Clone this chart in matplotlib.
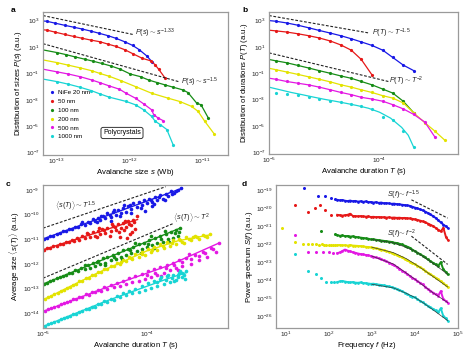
import numpy as np
import matplotlib
matplotlib.use('Agg')
import matplotlib.pyplot as plt
from matplotlib.ticker import FixedLocator, NullLocator, LogFormatterSciNotation

plt.rcParams['font.family'] = ['Liberation Sans', 'DejaVu Sans']
plt.rcParams['mathtext.fontset'] = 'custom'
plt.rcParams['mathtext.rm'] = 'Liberation Sans'
plt.rcParams['mathtext.it'] = 'Liberation Sans:italic'
plt.rcParams['mathtext.bf'] = 'Liberation Sans:bold'

COLORS = ['#1818e6', '#e61818', '#168c16', '#e3e300', '#e318e3', '#18d4d4']
LABELS = ['NiFe 20 nm', '50 nm', '100 nm', '200 nm', '500 nm', '1000 nm']

# ---------------- panel a : size distributions (log10 values) ----------------
a_x0 = -13.18
a_y0 = [2.97, 2.30, 0.78, 0.02, -0.68, -1.43]
a_x = [
    [-13.13, -13.01, -12.88, -12.76, -12.65, -12.52, -12.41, -12.29, -12.18, -12.06, -11.95, -11.86, -11.75, -11.68],
    [-13.13, -13.01, -12.88, -12.76, -12.65, -12.52, -12.40, -12.29, -12.18, -12.06, -11.95, -11.82, -11.70, -11.64, -11.59, -11.50],
    [-12.99, -12.87, -12.74, -12.61, -12.49, -12.37, -12.24, -12.12, -11.98, -11.84, -11.73, -11.61, -11.50, -11.39, -11.26, -11.19, -11.07, -11.01, -10.91],
    [-12.99, -12.83, -12.67, -12.51, -12.40, -12.27, -12.11, -11.91, -11.69, -11.46, -11.30, -11.14, -11.05, -10.96, -10.83],
    [-12.99, -12.83, -12.67, -12.51, -12.40, -12.27, -12.13, -12.04, -11.91, -11.80, -11.69, -11.66, -11.60, -11.53],
    [-12.99, -12.83, -12.67, -12.52, -12.40, -12.27, -12.04, -11.91, -11.80, -11.69, -11.64, -11.57, -11.48, -11.39],
]
a_y = [
    [2.95, 2.80, 2.64, 2.50, 2.37, 2.20, 2.04, 1.86, 1.66, 1.40, 1.12, 0.80, 0.30, -0.15],
    [2.28, 2.12, 1.95, 1.80, 1.67, 1.52, 1.40, 1.22, 1.05, 0.80, 0.50, 0.15, -0.05, -0.35, -0.70, -1.38],
    [0.58, 0.43, 0.25, 0.08, -0.08, -0.25, -0.45, -0.68, -1.05, -1.25, -1.50, -1.70, -1.88, -2.05, -2.25, -2.45, -3.25, -3.38, -4.38],
    [-0.18, -0.38, -0.58, -0.80, -1.00, -1.22, -1.55, -2.00, -2.50, -2.88, -3.13, -3.50, -3.88, -4.62, -5.58],
    [-0.88, -1.05, -1.25, -1.50, -1.70, -1.95, -2.20, -2.50, -2.88, -3.30, -3.75, -4.12, -4.38, -4.58],
    [-1.62, -1.82, -2.05, -2.30, -2.55, -2.80, -3.12, -3.38, -3.75, -4.25, -4.62, -4.88, -5.25, -6.45],
]
a_dash1_x, a_dash1_y = [-13.18, -11.93], [3.38, 1.93]
a_dash2_x, a_dash2_y = [-13.18, -11.32], [1.25, -1.62]

# ---------------- panel b : duration distributions ----------------
b_x0 = -5.0
b_y0 = [3.00, 2.27, 0.05, -0.62, -1.37, -2.05]
b_grid = [-4.94, -4.84, -4.74, -4.64, -4.545, -4.445, -4.35, -4.255, -4.165, -4.07,
          -3.97, -3.88, -3.785, -3.69, -3.59, -3.50, -3.41]
b_y = [
    [2.95, 2.82, 2.65, 2.45, 2.25, 2.05, 1.85, 1.62, 1.38, 1.12, 0.75, 0.20, -0.38, -0.80],
    [2.22, 2.13, 2.00, 1.85, 1.68, 1.45, 1.15, 0.75, 0.05, -1.10],
    [-0.05, -0.20, -0.40, -0.60, -0.80, -1.00, -1.20, -1.38, -1.62, -1.87, -2.20, -2.50, -3.12, -4.00],
    [-0.72, -0.90, -1.08, -1.27, -1.45, -1.65, -1.87, -2.05, -2.25, -2.45, -2.70, -2.88, -3.25, -4.00, -4.75, -5.38, -6.07],
    [-1.45, -1.62, -1.75, -1.88, -2.05, -2.25, -2.45, -2.62, -2.82, -2.95, -3.12, -3.38, -3.70, -4.12, -4.70, -5.82],
    [-2.50, -2.55, -2.65, -2.80, -2.95, -3.08, -3.20, -3.36, -3.50, -3.72, -4.30, -4.55, -5.35, -6.62],
]
b_cyan_fit_x = [-5.0, -4.9, -4.8, -4.7, -4.6, -4.5, -4.4, -4.3, -4.2, -4.1, -4.0, -3.9, -3.8, -3.74, -3.69]
b_cyan_fit_y = [-2.05, -2.25, -2.45, -2.62, -2.80, -2.97, -3.12, -3.28, -3.45, -3.65, -3.95, -4.40, -5.10, -5.70, -6.62]
b_dash1_x, b_dash1_y = [-5.0, -4.09], [3.38, 2.05]
b_dash2_x, b_dash2_y = [-5.0, -3.92], [0.55, -1.62]

# ---------------- panel c : average size vs duration ----------------
c_x = [
    [-4.99, -4.96, -4.93, -4.90, -4.87, -4.84, -4.81, -4.78, -4.75, -4.72, -4.69, -4.66, -4.63, -4.60, -4.57,
     -4.55, -4.52, -4.50, -4.47, -4.45, -4.42, -4.40, -4.38, -4.35, -4.33, -4.30, -4.28, -4.25, -4.23, -4.20,
     -4.18, -4.15, -4.13, -4.10, -4.08, -4.05, -4.03, -4.00, -3.98, -3.95, -3.92, -3.90, -3.87, -3.85, -3.82,
     -3.80, -3.77, -3.74, -3.70, -3.67, -4.15, -3.95, -4.35],
    [-4.99, -4.96, -4.93, -4.90, -4.87, -4.84, -4.81, -4.78, -4.75, -4.72, -4.70, -4.67, -4.65, -4.62, -4.60,
     -4.57, -4.55, -4.52, -4.50, -4.47, -4.45, -4.43, -4.40, -4.38, -4.35, -4.33, -4.30, -4.28, -4.26, -4.25,
     -4.23, -4.20, -4.18, -4.16, -4.15, -4.13, -4.11, -4.10],
    [-4.99, -4.96, -4.93, -4.90, -4.87, -4.84, -4.81, -4.78, -4.75, -4.72, -4.69, -4.66, -4.63, -4.60, -4.57,
     -4.55, -4.52, -4.50, -4.47, -4.45, -4.42, -4.40, -4.38, -4.35, -4.33, -4.30, -4.28, -4.25, -4.23, -4.20,
     -4.18, -4.15, -4.13, -4.10, -4.08, -4.05, -4.03, -4.00, -3.98, -3.95, -3.92, -3.90, -3.87, -3.85, -3.82,
     -3.80, -3.77, -3.75, -3.72, -3.70, -3.68],
    [-4.98, -4.95, -4.92, -4.89, -4.86, -4.83, -4.80, -4.77, -4.74, -4.71, -4.68, -4.65, -4.62, -4.59, -4.56,
     -4.53, -4.50, -4.47, -4.44, -4.41, -4.38, -4.35, -4.32, -4.29, -4.26, -4.23, -4.20, -4.17, -4.14, -4.11,
     -4.08, -4.05, -4.02, -3.99, -3.96, -3.93, -3.90, -3.87, -3.84, -3.81, -3.78, -3.75, -3.72, -3.69, -3.66,
     -3.62, -3.58, -3.54, -3.50, -3.46, -3.42, -3.39],
    [-4.98, -4.95, -4.92, -4.89, -4.86, -4.83, -4.80, -4.77, -4.74, -4.71, -4.68, -4.65, -4.62, -4.59, -4.56,
     -4.53, -4.50, -4.47, -4.44, -4.41, -4.38, -4.35, -4.32, -4.29, -4.26, -4.23, -4.20, -4.17, -4.14, -4.11,
     -4.08, -4.05, -4.02, -3.99, -3.96, -3.93, -3.90, -3.87, -3.84, -3.81, -3.78, -3.75, -3.72, -3.69, -3.66,
     -3.62, -3.58, -3.54, -3.50, -3.46, -3.42, -3.38, -3.34, -3.31],
    [-4.98, -4.95, -4.92, -4.89, -4.86, -4.83, -4.80, -4.77, -4.74, -4.71, -4.68, -4.65, -4.62, -4.59, -4.56,
     -4.53, -4.50, -4.47, -4.44, -4.41, -4.38, -4.35, -4.32, -4.29, -4.26, -4.23, -4.20, -4.17, -4.14, -4.11,
     -4.08, -4.05, -4.02, -3.99, -3.96, -3.93, -3.90, -3.87, -3.84, -3.81, -3.78, -3.75, -3.72, -3.69, -3.66,
     -3.62, -3.64, -3.70],
]
c_y = [
    [-10.98, -10.93, -10.86, -10.85, -10.78, -10.76, -10.68, -10.66, -10.58, -10.60, -10.50, -10.49, -10.38, -10.42, -10.30,
     -10.36, -10.18, -10.28, -10.12, -10.22, -10.05, -10.15, -9.95, -10.08, -9.90, -10.02, -9.82, -9.95, -9.72, -9.88,
     -9.65, -9.78, -9.55, -9.70, -9.48, -9.62, -9.42, -9.55, -9.35, -9.50, -9.30, -9.42, -9.20, -9.35, -9.15,
     -9.25, -9.05, -9.12, -9.00, -8.93, -9.95, -9.65, -10.25],
    [-11.42, -11.36, -11.35, -11.28, -11.27, -11.20, -11.20, -11.10, -11.13, -11.02, -11.08, -10.95, -11.02, -10.88, -10.95,
     -10.80, -10.92, -10.72, -10.85, -10.65, -10.78, -10.58, -10.75, -10.55, -10.68, -10.45, -10.62, -10.40, -10.90, -10.55,
     -10.35, -10.50, -10.28, -10.80, -10.42, -10.20, -10.60, -10.05],
    [-12.80, -12.76, -12.70, -12.66, -12.58, -12.55, -12.48, -12.45, -12.36, -12.38, -12.25, -12.30, -12.15, -12.22, -12.05,
     -12.15, -11.95, -12.08, -11.88, -12.00, -11.78, -11.95, -11.70, -11.85, -11.62, -11.80, -11.55, -11.70, -11.45, -11.62,
     -11.38, -11.55, -11.30, -11.48, -11.20, -11.40, -11.15, -11.32, -11.05, -11.25, -10.95, -11.15, -10.85, -11.10, -10.80,
     -11.00, -10.70, -10.95, -10.62, -10.85, -10.55],
    [-13.43, -13.36, -13.31, -13.22, -13.18, -13.10, -13.06, -12.97, -12.93, -12.84, -12.81, -12.71, -12.69, -12.59, -12.57,
     -12.46, -12.45, -12.34, -12.33, -12.22, -12.20, -12.09, -12.10, -11.96, -11.99, -11.85, -11.90, -11.74, -11.80, -11.60,
     -11.70, -11.50, -11.62, -11.40, -11.52, -11.30, -11.45, -11.20, -11.36, -11.12, -11.28, -11.05, -11.20, -10.98, -11.12,
     -10.92, -11.05, -10.88, -10.98, -10.82, -10.90, -10.80],
    [-13.90, -13.84, -13.80, -13.73, -13.70, -13.63, -13.60, -13.53, -13.52, -13.43, -13.42, -13.33, -13.34, -13.23, -13.25,
     -13.14, -13.16, -13.05, -13.10, -12.93, -13.02, -12.85, -12.95, -12.76, -12.88, -12.68, -12.80, -12.58, -12.75, -12.50,
     -12.68, -12.40, -12.62, -12.30, -12.55, -12.22, -12.45, -12.12, -12.35, -12.05, -12.25, -11.95, -12.18, -11.85, -12.10,
     -11.75, -12.00, -11.62, -11.85, -11.50, -11.70, -11.35, -11.50, -11.16],
    [-14.50, -14.45, -14.41, -14.35, -14.31, -14.25, -14.21, -14.15, -14.12, -14.04, -14.02, -13.94, -13.92, -13.84, -13.83,
     -13.73, -13.73, -13.62, -13.63, -13.52, -13.54, -13.42, -13.45, -13.31, -13.36, -13.20, -13.27, -13.10, -13.20, -13.00,
     -13.12, -12.90, -13.05, -12.78, -12.98, -12.68, -12.90, -12.60, -12.80, -12.50, -12.72, -12.45, -12.65, -12.35, -12.55,
     -12.30, -12.45, -12.55],
]
c_extra_x = [
    [-4.62, -4.48, -4.36, -4.26, -4.16, -4.06, -3.96, -3.88, -3.83, -3.76, -3.72, -4.02, -4.22, -4.32, -4.44, -3.93],
    [-4.58, -4.48, -4.41, -4.36, -4.31, -4.27, -4.22, -4.19, -4.17, -4.14, -4.12, -4.21, -4.34, -4.46],
    [-4.60, -4.48, -4.40, -4.32, -4.24, -4.16, -4.06, -3.99, -3.93, -3.86, -3.79, -3.73, -3.69, -4.11, -3.96, -3.83],
    [-3.95, -3.85, -3.76, -3.68, -3.60, -3.52, -3.44, -3.64, -3.56, -4.25, -4.15, -4.05],
    [-4.00, -3.92, -3.82, -3.74, -3.66, -3.58, -3.50, -3.44, -3.36, -3.86, -3.70, -3.60],
    [-3.90, -3.82, -3.76, -3.70, -3.66, -3.63, -3.68, -3.74, -3.80, -3.86],
]
c_extra_y = [
    [-10.32, -10.30, -10.00, -10.05, -9.60, -9.72, -9.40, -9.28, -9.40, -9.18, -9.05, -9.85, -9.62, -9.80, -10.05, -9.58],
    [-10.75, -10.92, -10.62, -10.85, -10.50, -10.70, -10.62, -10.95, -10.38, -10.70, -10.30, -10.25, -10.38, -10.55],
    [-12.05, -11.92, -12.05, -11.72, -11.80, -11.42, -11.55, -11.20, -11.35, -10.98, -11.10, -10.75, -10.70, -11.15, -10.85, -10.65],
    [-11.42, -11.28, -11.15, -11.05, -10.98, -10.92, -10.86, -11.15, -10.90, -11.92, -11.75, -11.58],
    [-12.45, -12.35, -12.18, -12.05, -11.92, -11.82, -11.68, -11.55, -11.40, -12.50, -12.25, -11.60],
    [-12.75, -12.65, -12.58, -12.45, -12.38, -12.60, -12.28, -12.70, -12.45, -12.55],
]
c_fit_x = [[-5.0, -3.66], [-5.0, -4.09], [-5.0, -3.68], [-5.0, -4.5, -4.0, -3.7, -3.39],
           [-5.0, -4.4, -3.8, -3.31], [-5.0, -4.4, -3.8, -3.62]]
c_fit_y = [[-10.99, -8.93], [-11.43, -10.20], [-12.82, -10.55], [-13.46, -12.42, -11.47, -11.06, -10.82],
           [-13.93, -12.97, -12.08, -11.16], [-14.54, -13.52, -12.60, -12.35]]
c_dash1_x, c_dash1_y = [-5.0, -3.82], [-10.55, -8.87]
c_dash2_x, c_dash2_y = [-5.0, -3.74], [-12.58, -10.35]

# ---------------- panel d : power spectra ----------------
d_low_x = [
    [1.44, 1.75, 1.92, 2.06, 2.14],
    [1.23, 1.52, 1.69, 1.81, 1.92, 2.06],
    [1.83, 2.14],
    [0.92, 1.23, 1.40, 1.52, 1.62, 1.71, 1.78, 1.85, 1.90, 1.95, 2.00, 2.05, 2.10, 2.15],
    [1.23, 1.52, 1.71, 1.87, 2.02, 2.10],
    [1.23, 1.52, 1.70, 1.82, 1.94, 2.05, 2.12],
]
d_low_y = [
    [-18.87, -19.33, -19.32, -19.45, -19.52],
    [-19.82, -20.23, -20.00, -19.86, -20.10, -20.37],
    [-21.25, -21.44],
    [-21.10, -21.89, -21.99, -21.98, -22.02, -22.00, -22.03, -22.02, -22.04, -22.03, -22.05, -22.04, -22.06, -22.05],
    [-21.47, -22.42, -22.42, -22.43, -22.46, -22.48],
    [-22.53, -23.50, -23.67, -23.90, -24.07, -24.10, -24.08],
]
d_grid = [2.20, 2.26, 2.32, 2.38, 2.44, 2.50, 2.56, 2.62, 2.68, 2.74,
          2.80, 2.86, 2.92, 2.98, 3.04, 3.10, 3.16, 3.22, 3.28, 3.34,
          3.40, 3.46, 3.52, 3.58, 3.64, 3.70, 3.76, 3.82, 3.88, 3.94,
          4.00, 4.06, 4.12, 4.18, 4.24, 4.30, 4.36, 4.42, 4.48, 4.54,
          4.60, 4.66, 4.72, 4.76]
d_y = [
    [-19.55, -19.58, -19.56, -19.60, -19.62, -19.59, -19.63, -19.61, -19.65, -19.63,
     -19.66, -19.64, -19.68, -19.67, -19.70, -19.68, -19.72, -19.70, -19.74, -19.73,
     -19.75, -19.77, -19.76, -19.79, -19.80, -19.82, -19.84, -19.86, -19.88, -19.93,
     -19.98, -20.02, -20.08, -20.13, -20.20, -20.28, -20.36, -20.45, -20.55, -20.68,
     -20.80, -20.92, -21.02, -21.10],
    [-20.38, -20.40, -20.42, -20.40, -20.38, -20.32, -20.44, -20.45, -20.46, -20.45,
     -20.47, -20.48, -20.47, -20.50, -20.49, -20.51, -20.50, -20.52, -20.51, -20.53,
     -20.52, -20.54, -20.53, -20.55, -20.54, -20.56, -20.55, -20.57, -20.58, -20.60,
     -20.63, -20.66, -20.70, -20.74, -20.80, -20.86, -20.93, -21.00, -21.10, -21.20,
     -21.30, -21.10, -21.60, -21.75],
    [-21.50, -21.54, -21.52, -21.56, -21.55, -21.58, -21.57, -21.60, -21.62, -21.64,
     -21.66, -21.68, -21.70, -21.74, -21.73, -21.76, -21.78, -21.80, -21.82, -21.84,
     -21.86, -21.88, -21.92, -21.94, -21.98, -22.02, -22.08, -22.14, -22.20, -22.30,
     -22.39, -22.47, -22.56, -22.64, -22.74, -22.85, -22.94, -23.03, -23.12, -23.21,
     -23.00, -23.40, -23.55, -23.67],
    [-22.06, -22.05, -22.07, -22.06, -22.08, -22.05, -22.08, -22.09, -22.10, -22.11,
     -22.13, -22.15, -22.16, -22.18, -22.20, -22.23, -22.26, -22.30, -22.34, -22.38,
     -22.43, -22.48, -22.54, -22.60, -22.67, -22.74, -22.82, -22.90, -22.98, -23.05,
     -23.12, -23.20, -23.28, -23.36, -23.47, -23.58, -23.66, -23.76, -23.85, -23.95,
     -24.05, -24.15, -24.28, -24.37],
    [-22.50, -22.46, -22.38, -22.30, -22.36, -22.40, -22.45, -22.48, -22.52, -22.55,
     -22.57, -22.60, -22.62, -22.66, -22.70, -22.74, -22.78, -22.84, -22.90, -22.96,
     -23.02, -23.10, -23.18, -23.26, -23.36, -23.46, -23.56, -23.66, -23.76, -23.86,
     -23.95, -24.05, -24.14, -24.23, -24.36, -24.49, -24.58, -24.68, -24.77, -24.86,
     -24.60, -25.05, -25.15, -25.23],
    [-24.10, -24.06, -24.04, -24.07, -24.10, -24.12, -24.10, -24.13, -24.14, -24.12,
     -24.15, -24.16, -24.18, -24.20, -24.19, -24.22, -24.24, -24.26, -24.28, -24.31,
     -24.34, -24.38, -24.42, -24.47, -24.53, -24.60, -24.68, -24.76, -24.85, -24.90,
     -24.95, -25.05, -25.14, -25.22, -25.32, -25.41, -25.50, -25.58, -25.67, -25.78,
     -25.55, -25.98, -26.10, -26.23],
]
d_fit_x = [3.0, 3.5, 3.8, 4.0, 4.2, 4.4, 4.6, 4.76]
d_fit_y = {
    2: [-21.75, -21.93, -22.18, -22.39, -22.70, -23.03, -23.38, -23.67],
    3: [-22.17, -22.47, -22.80, -23.10, -23.42, -23.76, -24.10, -24.37],
    4: [-22.66, -23.10, -23.60, -23.94, -24.30, -24.66, -24.98, -25.23],
    5: [-24.22, -24.42, -24.72, -24.95, -25.26, -25.60, -25.95, -26.23],
}
d_dash1_x, d_dash1_y = [3.92, 4.76], [-19.55, -20.56]
d_dash2_x, d_dash2_y = [3.92, 4.76], [-21.56, -23.12]


def P(v):
    return 10.0 ** np.asarray(v, dtype=float)


W, H = 474, 351
fig = plt.figure(figsize=(W / 100, H / 100), dpi=100)


def make_ax(l, r, t, b):
    return fig.add_axes([l / W, 1 - b / H, (r - l) / W, (b - t) / H])


def style(ax, xlim, ylim, xt, yt, xlabel, ylabel, ylp=1.0):
    ax.set_xscale('log')
    ax.set_yscale('log')
    ax.set_xlim(P(xlim))
    ax.set_ylim(P(ylim))
    ax.xaxis.set_major_locator(FixedLocator(P(xt)))
    ax.yaxis.set_major_locator(FixedLocator(P(yt)))
    ax.xaxis.set_minor_locator(NullLocator())
    ax.yaxis.set_minor_locator(NullLocator())
    ax.xaxis.set_major_formatter(LogFormatterSciNotation())
    ax.yaxis.set_major_formatter(LogFormatterSciNotation())
    ax.tick_params(length=0, labelsize=4.6, colors='#222222')
    ax.tick_params(axis='x', pad=1.0)
    ax.tick_params(axis='y', pad=2.5)
    for s in ax.spines.values():
        s.set_color('#9a9a9a')
        s.set_linewidth(0.9)
    ax.set_xlabel(xlabel, fontsize=5.6, labelpad=0.6)
    ax.set_ylabel(ylabel, fontsize=5.6, labelpad=ylp)


dash_kw = dict(color='#222222', lw=0.8, ls=(0, (2.5, 1.5)))
ann_kw = dict(fontsize=5.2, color='#222222', va='center', ha='left')

# ---------- panel a ----------
ax = make_ax(43, 228, 12, 155)
for i in range(6):
    ax.plot(P([a_x0] + a_x[i]), P([a_y0[i]] + a_y[i]), '-', color=COLORS[i], lw=0.9)
    ax.plot(P(a_x[i]), P(a_y[i]), 'o', ms=2.3, color=COLORS[i], mec='none', label=LABELS[i])
ax.plot(P(a_dash1_x), P(a_dash1_y), **dash_kw)
ax.plot(P(a_dash2_x), P(a_dash2_y), **dash_kw)
style(ax, (-13.18, -10.64), (-7.18, 3.65), [-13, -12, -11], [3, 1, -1, -3, -5, -7],
      'Avalanche size $s$ (Wb)', 'Distribution of sizes $P(s)$ (a.u.)')
ax.text(0.497, 0.852, r'$P(s)\sim s^{-1.33}$', transform=ax.transAxes, **ann_kw)
ax.text(0.748, 0.51, r'$P(s)\sim s^{-1.5}$', transform=ax.transAxes, **ann_kw)
ax.legend(loc='upper left', bbox_to_anchor=(0.035, 0.455), frameon=False, fontsize=4.5,
          handlelength=0.8, handletextpad=0.6, labelspacing=0.55, borderpad=0, borderaxespad=0,
          markerscale=1.0)
ax.text(0.427, 0.154, 'Polycrystals', transform=ax.transAxes, fontsize=5.0, ha='center', va='center',
        bbox=dict(boxstyle='round,pad=0.3,rounding_size=0.3', fc='white', ec='#333333', lw=0.7))

# ---------- panel b ----------
ax = make_ax(269, 458, 12, 154)
for i in range(6):
    xs = b_grid[:len(b_y[i])]
    if i == 5:
        ax.plot(P(b_cyan_fit_x), P(b_cyan_fit_y), '-', color=COLORS[i], lw=0.9)
    else:
        ax.plot(P([b_x0] + xs), P([b_y0[i]] + b_y[i]), '-', color=COLORS[i], lw=0.9)
    ax.plot(P(xs), P(b_y[i]), 'o', ms=2.3, color=COLORS[i], mec='none')
ax.plot(P(b_dash1_x), P(b_dash1_y), **dash_kw)
ax.plot(P(b_dash2_x), P(b_dash2_y), **dash_kw)
style(ax, (-5.0, -3.29), (-7.12, 3.65), [-5, -4], [3, 1, -1, -3, -5, -7],
      'Avalanche duration $T$ (s)', 'Distribution of durations $P(T)$ (a.u.)')
ax.text(0.545, 0.852, r'$P(T)\sim T^{-1.5}$', transform=ax.transAxes, **ann_kw)
ax.text(0.637, 0.512, r'$P(T)\sim T^{-2}$', transform=ax.transAxes, **ann_kw)

# ---------- panel c ----------
ax = make_ax(43, 228, 185, 328)
for i in range(6):
    ax.plot(P(c_x[i]), P(c_y[i]), 'o', ms=2.6, color=COLORS[i], mec='none')
    ax.plot(P(c_extra_x[i]), P(c_extra_y[i]), 'o', ms=2.6, color=COLORS[i], mec='none')
    ax.plot(P(c_fit_x[i]), P(c_fit_y[i]), '-', color=COLORS[i], lw=1.0)
ax.plot(P(c_dash1_x), P(c_dash1_y), **dash_kw)
ax.plot(P(c_dash2_x), P(c_dash2_y), **dash_kw)
style(ax, (-5.0, -3.22), (-14.6, -8.8), [-5, -4], [-9, -10, -11, -12, -13, -14],
      'Avalanche duration $T$ (s)', r'Average size $\langle s(T)\rangle$ (a.u.)')
ax.text(0.065, 0.86, r'$\langle s(T)\rangle\sim T^{1.5}$', transform=ax.transAxes, **ann_kw)
ax.text(0.705, 0.772, r'$\langle s(T)\rangle\sim T^{2}$', transform=ax.transAxes, **ann_kw)

# ---------- panel d ----------
ax = make_ax(276, 458, 185, 328)
for i in range(6):
    ax.plot(P(d_low_x[i]), P(d_low_y[i]), 'o', ms=2.2, color=COLORS[i], mec='none')
    ax.plot(P(d_grid), P(d_y[i]), 'o-', ms=2.0, lw=1.4, color=COLORS[i], mec='none')
for i, fy in d_fit_y.items():
    ax.plot(P(d_fit_x), P(fy), '-', color='#333333', lw=0.5)
ax.plot(P(d_dash1_x), P(d_dash1_y), **dash_kw)
ax.plot(P(d_dash2_x), P(d_dash2_y), **dash_kw)
style(ax, (0.78, 5.0), (-26.64, -18.73), [1, 2, 3, 4, 5], [-19, -20, -21, -22, -23, -24, -25, -26],
      'Frequency $f$ (Hz)', 'Power spectrum $S(f)$ (a.u.)')
ax.text(0.61, 0.93, r'$S(f)\!\sim f^{-1.5}$', transform=ax.transAxes, **ann_kw)
ax.text(0.61, 0.653, r'$S(f)\!\sim f^{-2}$', transform=ax.transAxes, **ann_kw)

for lab, x, y in [('a', 11, 10), ('b', 242, 10), ('c', 6, 184), ('d', 242, 184)]:
    fig.text(x / W, 1 - y / H, lab, fontsize=6, fontweight='bold', va='center', ha='left')

fig.savefig('out.png', dpi=100)
